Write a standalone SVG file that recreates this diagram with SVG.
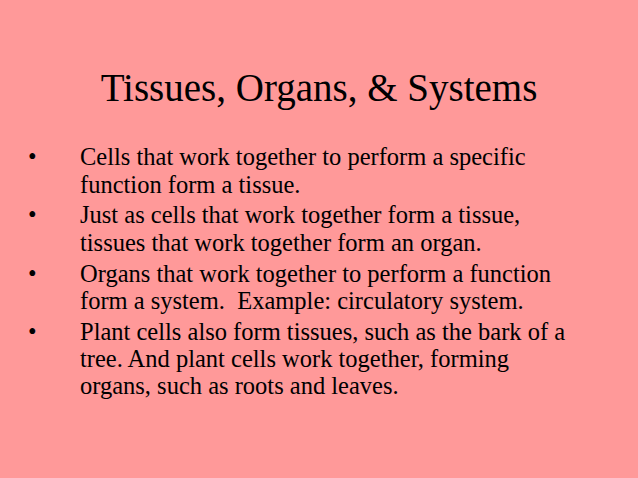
<svg xmlns="http://www.w3.org/2000/svg" width="638" height="478" viewBox="0 0 638 478">
<style>
text{font-family:"Liberation Serif","Times New Roman",serif;fill:#000}
.t{font-size:39px}
.b{font-size:24.5px}
</style>
<rect width="638" height="478" fill="#FF9999"/>
<text class="t" x="319" y="101" text-anchor="middle">Tissues, Organs, &amp; Systems</text>
<g>
<text class="b" x="28" y="165">•</text>
<text class="b" x="80" y="165">Cells that work together to perform a specific</text>
<text class="b" x="80" y="193">function form a tissue.</text>
<text class="b" x="28" y="223">•</text>
<text class="b" x="80" y="223">Just as cells that work together form a tissue,</text>
<text class="b" x="80" y="251">tissues that work together form an organ.</text>
<text class="b" x="28" y="282">•</text>
<text class="b" x="80" y="282">Organs that work together to perform a function</text>
<text class="b" x="80" y="309">form a system.&#160; Example: circulatory system.</text>
<text class="b" x="28" y="340">•</text>
<text class="b" x="80" y="340">Plant cells also form tissues, such as the bark of a</text>
<text class="b" x="80" y="367">tree. And plant cells work together, forming</text>
<text class="b" x="80" y="394">organs, such as roots and leaves.</text>
</g>
</svg>
